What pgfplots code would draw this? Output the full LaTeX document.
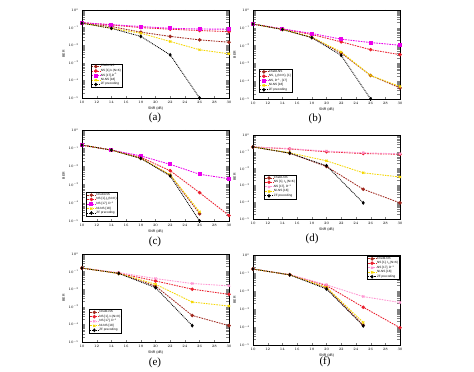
\RequirePackage{fix-cm}
\documentclass[border=0pt]{standalone}
\usepackage{pgfplots}
\pgfplotsset{compat=1.18}
\usepackage{fontspec}
\setmainfont{Liberation Serif}
\newfontfamily\sansf{Liberation Sans}

\definecolor{cheb}{RGB}{160,40,30}
\definecolor{nsone}{RGB}{235,30,45}
\definecolor{nsmag}{RGB}{235,0,235}
\definecolor{nspink}{RGB}{255,150,210}
\definecolor{niy}{RGB}{245,215,0}

\pgfplotsset{
 legend image code/.code={\draw[mark repeat=2,mark phase=2,#1] plot coordinates {(0pt,0pt) (4pt,0pt) (8pt,0pt)};},
 stch/.style={color=cheb, dash pattern=on 1.6pt off 1pt, mark=*},
 stnone/.style={color=nsone, dash pattern=on 1.6pt off 1pt, mark=*},
 stnm/.style={color=nsmag, dash pattern=on 1.6pt off 1pt, mark=square*, mark size=1.5pt},
 stnp/.style={color=nspink, dash pattern=on 1.6pt off 1pt, mark=x, mark size=1.5pt},
 stni/.style={color=niy, dash pattern=on 1.6pt off 1pt, mark=x, mark size=1.5pt},
 stzf/.style={color=black, dash pattern=on 0.9pt off 0.9pt, mark=diamond*},
 every axis/.append style={scale only axis, width=147pt, ymode=log, ymin=1e-5, ymax=1,
   xmin=10, xmax=30, xtick={10,12,...,30},
   ytick={1e-5,1e-4,1e-3,1e-2,1e-1,1},
   axis line style={line width=0.4pt},
   major tick length=1.5pt,
   tick label style={font=\fontsize{3.6}{4}\selectfont},
   xlabel={SNR (dB)}, ylabel={BER},
   legend cell align=left,
   legend style={font=\sansf\fontsize{3.1}{3.5}\selectfont, draw=black, line width=0.3pt,
     inner sep=0.4pt, nodes={inner sep=0.55pt}, row sep=-0.5pt},
 },
 every axis label/.append style={font=\sansf\fontsize{3.5}{4}\selectfont},
 every axis x label/.append style={yshift=4pt},
 every axis y label/.append style={yshift=-3pt},
 every axis plot/.append style={line width=0.85pt, mark size=1.3pt, mark options={solid}},
}

\begin{document}
\begin{tikzpicture}
\path[fill=white] (0pt,0pt) rectangle (474pt,369pt);

% (a)
\begin{axis}[at={(82pt,271pt)}, anchor=south west, height=88pt,
  legend style={at={(0.06,0.12)}, anchor=south west}]
\addplot[stch] coordinates {(10,0.178)(14,0.115)(18,0.055)(22,0.0316)(26,0.02)(30,0.0148)};
\addplot[stnone] coordinates {(10,0.19)(14,0.141)(18,0.1)(22,0.081)(26,0.068)(30,0.059)};
\addplot[stnm] coordinates {(10,0.19)(14,0.148)(18,0.115)(22,0.091)(26,0.083)(30,0.081)};
\addplot[stni] coordinates {(10,0.178)(14,0.091)(18,0.048)(22,0.0162)(26,0.0055)(30,0.00324)};
\addplot[stzf] coordinates {(10,0.178)(14,0.091)(18,0.0316)(22,0.00282)(26,1e-5)};
\legend{Chebt-NS, NS [1]{,}I\textsubscript{0}(N=K), NS [17]{,}D\textsuperscript{−1}, NI-NS [18], ZF precoding}
\end{axis}

% (b)
\begin{axis}[at={(253pt,270pt)}, anchor=south west, height=89pt,
  legend style={at={(0.04,0.07)}, anchor=south west}]
\addplot[stch] coordinates {(10,0.162)(14,0.081)(18,0.0282)(22,0.0038)(26,2.1e-4)(30,4.2e-5)};
\addplot[stnone] coordinates {(10,0.162)(14,0.085)(18,0.042)(22,0.0162)(26,0.0059)(30,0.0031)};
\addplot[stnm] coordinates {(10,0.162)(14,0.087)(18,0.048)(22,0.023)(26,0.0148)(30,0.0105)};
\addplot[stni] coordinates {(10,0.162)(14,0.081)(18,0.03)(22,0.0044)(26,2.1e-4)(30,5e-5)};
\addplot[stzf] coordinates {(10,0.162)(14,0.081)(18,0.0282)(22,0.00282)(26,1e-5)};
\legend{Chebt-NS, NS{,} I\textsubscript{0}(N=K){,} [1], NS{,} D\textsuperscript{−1}{,} [17], NI-NS [18], ZF precoding}
\end{axis}

% (c)
\begin{axis}[at={(82pt,148pt)}, anchor=south west, height=91pt,
  legend style={at={(0.03,0.055)}, anchor=south west}]
\addplot[stch] coordinates {(10,0.148)(14,0.079)(18,0.028)(22,0.0033)(26,2.5e-5)};
\addplot[stnone] coordinates {(10,0.148)(14,0.079)(18,0.0316)(22,0.0058)(26,3.6e-4)(30,2e-5)};
\addplot[stnm] coordinates {(10,0.148)(14,0.079)(18,0.038)(22,0.0129)(26,0.0037)(30,0.0021)};
\addplot[stni] coordinates {(10,0.148)(14,0.079)(18,0.028)(22,0.0035)(26,3.2e-5)};
\addplot[stzf] coordinates {(10,0.148)(14,0.079)(18,0.0275)(22,0.003)(26,1e-5)};
\legend{Chebt-NS, NS [1]{,}I\textsubscript{0}(N=K), NS [17]{,} D\textsuperscript{−1}, NI-NS [18], ZF precoding}
\end{axis}

% (d)
\begin{axis}[at={(253pt,150pt)}, anchor=south west, height=84pt,
  legend style={at={(0.075,0.24)}, anchor=south west}]
\addplot[stch] coordinates {(10,0.195)(15,0.083)(20,0.0132)(25,5.9e-4)(30,9.1e-5)};
\addplot[stnone] coordinates {(10,0.195)(15,0.148)(20,0.1)(25,0.079)(30,0.071)};
\addplot[stnp] coordinates {(10,0.195)(15,0.155)(20,0.11)(25,0.087)(30,0.076)};
\addplot[stni] coordinates {(10,0.195)(15,0.087)(20,0.029)(25,0.0056)(30,0.00316)};
\addplot[stzf] coordinates {(10,0.195)(15,0.083)(20,0.0148)(25,9.1e-5)};
\legend{Chebt-NS, NS [1]{,} I\textsubscript{0}(N=K), NS [17]{,} D\textsuperscript{−1}, NI-NS [18], ZF precoding}
\end{axis}

% (e)
\begin{axis}[at={(82pt,27pt)}, anchor=south west, height=88pt,
  legend style={at={(0.05,0.1)}, anchor=south west}]
\addplot[stch] coordinates {(10,0.158)(15,0.079)(20,0.0151)(25,3.2e-4)(30,8.5e-5)};
\addplot[stnone] coordinates {(10,0.158)(15,0.08)(20,0.0295)(25,0.01)(30,0.0051)};
\addplot[stnp] coordinates {(10,0.158)(15,0.088)(20,0.04)(25,0.021)(30,0.0155)};
\addplot[stni] coordinates {(10,0.158)(15,0.079)(20,0.019)(25,0.00186)(30,0.0011)};
\addplot[stzf] coordinates {(10,0.158)(15,0.079)(20,0.0123)(25,8.5e-5)};
\legend{Chebt-NS, NS [1]{,} I\textsubscript{0}(N=K), NS [17]{,} D\textsuperscript{−1}, NI-NS [18], ZF precoding}
\end{axis}

% (f)
\begin{axis}[at={(253pt,24pt)}, anchor=south west, height=90pt,
  legend style={at={(0.995,0.99)}, anchor=north east}]
\addplot[stch] coordinates {(10,0.166)(15,0.079)(20,0.0151)(25,1.26e-4)};
\addplot[stnone] coordinates {(10,0.166)(15,0.079)(20,0.02)(25,0.00126)(30,9.1e-5)};
\addplot[stnp] coordinates {(10,0.166)(15,0.082)(20,0.022)(25,0.0049)(30,0.0023)};
\addplot[stni] coordinates {(10,0.166)(15,0.079)(20,0.0158)(25,1.8e-4)};
\addplot[stzf] coordinates {(10,0.166)(15,0.079)(20,0.0129)(25,1.15e-4)};
\legend{Chebt-NS, NS [1]{,} I\textsubscript{0}(N=K), NS [17]{,} D\textsuperscript{−1}, NI-NS [18], ZF precoding}
\end{axis}

\node[font=\fontsize{11}{12}\selectfont] at (155pt,251pt) {(a)};
\node[font=\fontsize{11}{12}\selectfont] at (315pt,250pt) {(b)};
\node[font=\fontsize{11}{12}\selectfont] at (155pt,127pt) {(c)};
\node[font=\fontsize{11}{12}\selectfont] at (312pt,130pt) {(d)};
\node[font=\fontsize{11}{12}\selectfont] at (155pt,6pt) {(e)};
\node[font=\fontsize{11}{12}\selectfont] at (325pt,7pt) {(f)};
\end{tikzpicture}
\end{document}
